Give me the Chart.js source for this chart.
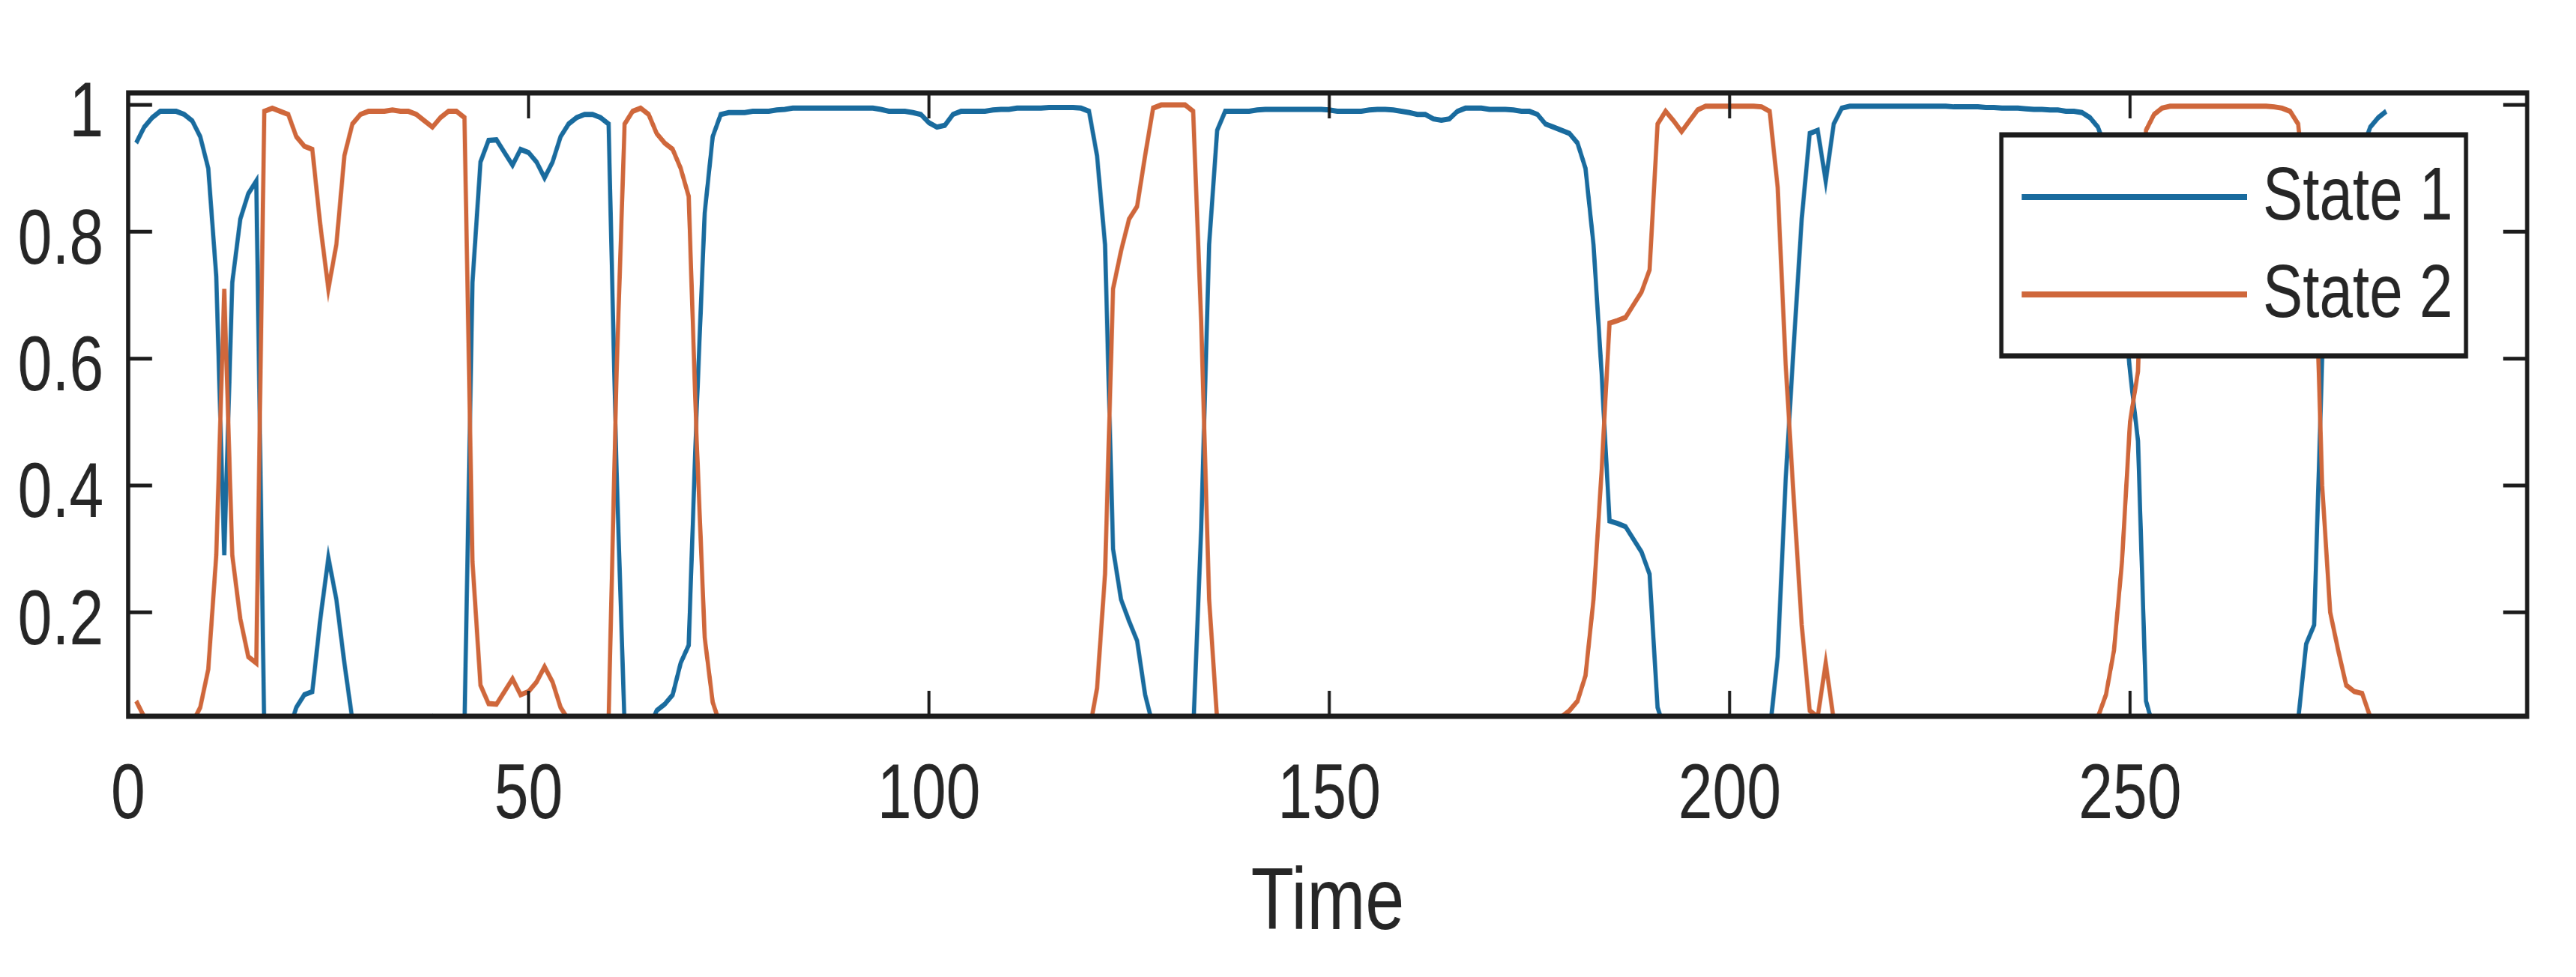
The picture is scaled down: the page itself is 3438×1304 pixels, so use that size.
<!DOCTYPE html>
<html>
<head>
<meta charset="utf-8">
<script src="https://cdn.jsdelivr.net/npm/chart.js@4.4.1/dist/chart.umd.min.js"></script>
<style>
  html, body { margin: 0; padding: 0; background: #ffffff; overflow: hidden; }
  #frame { width: 3438px; height: 1304px; overflow: hidden; position: relative; }
  /* the reference is horizontally squeezed (narrow glyphs), so the canvas is drawn wider and squeezed */
  #wrap { width: 4297.5px; height: 1304px; position: absolute; left: 0; top: 0;
          transform: scaleX(0.8); transform-origin: 0 0; }
</style>
</head>
<body>
<div id="frame"><div id="wrap"><canvas id="chart"></canvas></div></div>
<script>
const seriesNames = ["State 1", "State 2"];
const seriesColors = ["#196b9e", "#cf673b"];

const state1 = [
    0.94, 0.965, 0.98, 0.99, 0.99, 0.99, 0.985, 0.975, 0.95, 0.90,
    0.73, 0.29, 0.72, 0.82, 0.86, 0.88, 0.01, 0.005, 0.005, 0.01,
    0.05, 0.07, 0.075, 0.19, 0.286, 0.22, 0.12, 0.03, 0.01, 0.005,
    0.005, 0.005, 0.005, 0.005, 0.01, 0.015, 0.025, 0.035, 0.02, 0.01,
    0.01, 0.02, 0.72, 0.91, 0.944, 0.945, 0.925, 0.905, 0.93, 0.925,
    0.91, 0.885, 0.91, 0.95, 0.97, 0.98, 0.985, 0.985, 0.98, 0.97,
    0.42, 0.02, 0.01, 0.005, 0.015, 0.045, 0.055, 0.07, 0.12, 0.148,
    0.52, 0.83, 0.95, 0.985, 0.988, 0.988, 0.988, 0.99, 0.99, 0.99,
    0.992, 0.993, 0.995, 0.995, 0.995, 0.995, 0.995, 0.995, 0.995, 0.995,
    0.995, 0.995, 0.995, 0.993, 0.99, 0.99, 0.99, 0.988, 0.985, 0.972,
    0.965, 0.968, 0.985, 0.99, 0.99, 0.99, 0.99, 0.992, 0.993, 0.993,
    0.995, 0.995, 0.995, 0.995, 0.996, 0.996, 0.996, 0.996, 0.995, 0.99,
    0.92, 0.78, 0.30, 0.22, 0.186, 0.155, 0.07, 0.02, 0.005, 0.002,
    0.002, 0.003, 0.01, 0.33, 0.78, 0.96, 0.99, 0.99, 0.99, 0.99,
    0.992, 0.993, 0.993, 0.993, 0.993, 0.993, 0.993, 0.993, 0.993, 0.992,
    0.99, 0.99, 0.99, 0.99, 0.992, 0.993, 0.993, 0.992, 0.99, 0.988,
    0.985, 0.985, 0.978, 0.976, 0.978, 0.99, 0.995, 0.995, 0.995, 0.993,
    0.993, 0.993, 0.992, 0.99, 0.99, 0.985, 0.97, 0.965, 0.96, 0.955,
    0.94, 0.9, 0.78, 0.58, 0.344, 0.34, 0.335, 0.315, 0.295, 0.26,
    0.05, 0.01, 0.005, 0.005, 0.005, 0.003, 0.002, 0.002, 0.002, 0.002,
    0.002, 0.002, 0.002, 0.003, 0.01, 0.13, 0.41, 0.62, 0.82, 0.955,
    0.96, 0.88, 0.97, 0.995, 0.998, 0.998, 0.998, 0.998, 0.998, 0.998,
    0.998, 0.998, 0.998, 0.998, 0.998, 0.998, 0.998, 0.997, 0.997, 0.997,
    0.997, 0.996, 0.996, 0.995, 0.995, 0.995, 0.994, 0.993, 0.993, 0.992,
    0.992, 0.99, 0.99, 0.988, 0.98, 0.965, 0.93, 0.86, 0.72, 0.58,
    0.47, 0.06, 0.015, 0.005, 0.002, 0.002, 0.002, 0.002, 0.002, 0.002,
    0.002, 0.002, 0.002, 0.002, 0.002, 0.002, 0.002, 0.003, 0.005, 0.01,
    0.03, 0.15, 0.18, 0.6, 0.8, 0.86, 0.915, 0.925, 0.93, 0.965,
    0.98, 0.99
];

const state2 = [
    0.06, 0.035, 0.02, 0.01, 0.01, 0.01, 0.015, 0.025, 0.05, 0.11,
    0.29, 0.71, 0.29, 0.19, 0.13, 0.12, 0.99, 0.995, 0.99, 0.985,
    0.95, 0.935, 0.93, 0.81, 0.71, 0.78, 0.92, 0.97, 0.985, 0.99,
    0.99, 0.99, 0.992, 0.99, 0.99, 0.985, 0.975, 0.965, 0.98, 0.99,
    0.99, 0.98, 0.28, 0.085, 0.056, 0.055, 0.075, 0.095, 0.07, 0.075,
    0.09, 0.114, 0.09, 0.05, 0.03, 0.02, 0.015, 0.015, 0.02, 0.03,
    0.58, 0.97, 0.99, 0.995, 0.985, 0.955, 0.94, 0.93, 0.9, 0.856,
    0.47, 0.16, 0.058, 0.02, 0.012, 0.012, 0.012, 0.01, 0.01, 0.01,
    0.008, 0.007, 0.005, 0.005, 0.005, 0.005, 0.005, 0.005, 0.005, 0.005,
    0.005, 0.005, 0.005, 0.007, 0.01, 0.01, 0.01, 0.012, 0.015, 0.028,
    0.035, 0.032, 0.015, 0.01, 0.01, 0.01, 0.01, 0.008, 0.007, 0.007,
    0.005, 0.005, 0.005, 0.005, 0.004, 0.004, 0.004, 0.004, 0.005, 0.01,
    0.08, 0.26, 0.71, 0.77, 0.82, 0.84, 0.92, 0.995, 1.0, 1.0,
    1.0, 1.0, 0.99, 0.66, 0.22, 0.03, 0.01, 0.01, 0.01, 0.01,
    0.008, 0.007, 0.007, 0.007, 0.007, 0.007, 0.007, 0.007, 0.007, 0.008,
    0.01, 0.01, 0.01, 0.01, 0.008, 0.007, 0.007, 0.008, 0.01, 0.012,
    0.015, 0.015, 0.022, 0.024, 0.022, 0.01, 0.005, 0.005, 0.005, 0.007,
    0.007, 0.007, 0.008, 0.01, 0.01, 0.015, 0.025, 0.03, 0.035, 0.045,
    0.06, 0.1, 0.22, 0.42, 0.656, 0.66, 0.665, 0.685, 0.705, 0.74,
    0.97, 0.99, 0.975, 0.958, 0.975, 0.992, 0.998, 0.998, 0.998, 0.998,
    0.998, 0.998, 0.998, 0.997, 0.99, 0.87, 0.59, 0.38, 0.18, 0.045,
    0.035, 0.12, 0.03, 0.005, 0.002, 0.002, 0.002, 0.002, 0.002, 0.002,
    0.002, 0.002, 0.002, 0.002, 0.002, 0.002, 0.002, 0.003, 0.003, 0.003,
    0.003, 0.004, 0.004, 0.005, 0.005, 0.005, 0.006, 0.007, 0.007, 0.008,
    0.008, 0.01, 0.01, 0.012, 0.02, 0.035, 0.07, 0.14, 0.28, 0.5,
    0.58, 0.96, 0.985, 0.995, 0.998, 0.998, 0.998, 0.998, 0.998, 0.998,
    0.998, 0.998, 0.998, 0.998, 0.998, 0.998, 0.998, 0.997, 0.995, 0.99,
    0.97, 0.85, 0.82, 0.4, 0.2, 0.14, 0.085, 0.075, 0.072, 0.035,
    0.02, 0.01
];

const timeSteps = state1.map((_, i) => i + 1);
const xTicks = [0, 50, 100, 150, 200, 250];
const yTicks = [0.2, 0.4, 0.6, 0.8, 1];
const xLabel = "Time";

const fontFamily = '"Liberation Sans", Arial, Helvetica, sans-serif';
const textColor = "#262626";
const axisColor = "#1c1c1c";

// MATLAB-like box with inward ticks on all four sides
const boxPlugin = {
    id: "box",
    beforeDraw(chart) {
        const ctx = chart.ctx;
        ctx.save();
        ctx.fillStyle = "#ffffff";
        ctx.fillRect(0, 0, chart.width, chart.height);
        ctx.restore();
    },
    afterDatasetsDraw(chart) {
        const { ctx, chartArea: a, scales } = chart;
        ctx.save();
        ctx.strokeStyle = axisColor;
        ctx.lineWidth = 5;
        ctx.beginPath();
        scales.x.ticks.forEach(t => {
            const px = scales.x.getPixelForValue(t.value);
            ctx.moveTo(px, a.bottom); ctx.lineTo(px, a.bottom - 34);
            ctx.moveTo(px, a.top); ctx.lineTo(px, a.top + 34);
        });
        scales.y.ticks.forEach(t => {
            const py = scales.y.getPixelForValue(t.value);
            ctx.moveTo(a.left, py); ctx.lineTo(a.left + 40, py);
            ctx.moveTo(a.right, py); ctx.lineTo(a.right - 40, py);
        });
        ctx.stroke();
        ctx.lineWidth = 7;
        ctx.strokeRect(a.left, a.top, a.right - a.left, a.bottom - a.top);
        ctx.restore();
    }
};

const legendPlugin = {
    id: "boxLegend",
    afterDraw(chart) {
        const { ctx, chartArea: a } = chart;
        const w = 775, h = 295;
        const left = a.right - 102 - w;
        const top = a.top + 56;
        ctx.save();
        ctx.fillStyle = "#ffffff";
        ctx.fillRect(left, top, w, h);
        ctx.strokeStyle = axisColor;
        ctx.lineWidth = 7;
        ctx.strokeRect(left, top, w, h);
        ctx.font = "100px " + fontFamily;
        ctx.textBaseline = "middle";
        ctx.textAlign = "left";
        chart.data.datasets.forEach((ds, i) => {
            const y = top + 83 + i * 130;
            ctx.strokeStyle = ds.borderColor;
            ctx.lineWidth = 8;
            ctx.beginPath();
            ctx.moveTo(left + 34, y);
            ctx.lineTo(left + 410, y);
            ctx.stroke();
            ctx.fillStyle = textColor;
            ctx.fillText(ds.label, left + 436, y + 2);
        });
        ctx.restore();
    }
};

new Chart(document.getElementById("chart"), {
    type: "line",
    plugins: [boxPlugin, legendPlugin],
    data: {
        labels: timeSteps,
        datasets: [
            {
                label: seriesNames[0],
                data: state1,
                borderColor: seriesColors[0],
                borderWidth: 7,
                pointRadius: 0,
                tension: 0,
                clip: 0,
                order: 1,
            },
            {
                label: seriesNames[1],
                data: state2,
                borderColor: seriesColors[1],
                borderWidth: 7,
                pointRadius: 0,
                tension: 0,
                clip: 0,
                order: 0,
            },
        ],
    },
    options: {
        responsive: true,
        maintainAspectRatio: false,
        devicePixelRatio: 1,
        animation: false,
        layout: { padding: { left: 0, right: 82.5, top: 124, bottom: 0 } },
        plugins: {
            legend: { display: false },
            tooltip: { enabled: false },
        },
        scales: {
            x: {
                type: "linear",
                min: 0,
                max: 299.6,
                grid: { display: false, drawTicks: false },
                border: { display: false },
                afterBuildTicks: (scale) => { scale.ticks = xTicks.map(v => ({ value: v })); },
                afterFit: (scale) => { scale.height = 348; },
                ticks: {
                    color: textColor,
                    padding: 46,
                    maxRotation: 0,
                    font: { family: fontFamily, size: 103 },
                    callback: (v) => String(v),
                },
                title: {
                    display: true,
                    text: xLabel,
                    color: textColor,
                    font: { family: fontFamily, size: 117 },
                    padding: { top: 0, bottom: 26 },
                },
            },
            y: {
                min: 0.036,
                max: 1.019,
                grid: { display: false, drawTicks: false },
                border: { display: false },
                afterBuildTicks: (scale) => { scale.ticks = yTicks.map(v => ({ value: v })); },
                afterFit: (scale) => { scale.width = 213.75; },
                ticks: {
                    color: textColor,
                    padding: 41,
                    labelOffset: 14,
                    font: { family: fontFamily, size: 103 },
                    callback: (v) => String(v),
                },
            },
        },
    },
});
</script>
</body>
</html>
